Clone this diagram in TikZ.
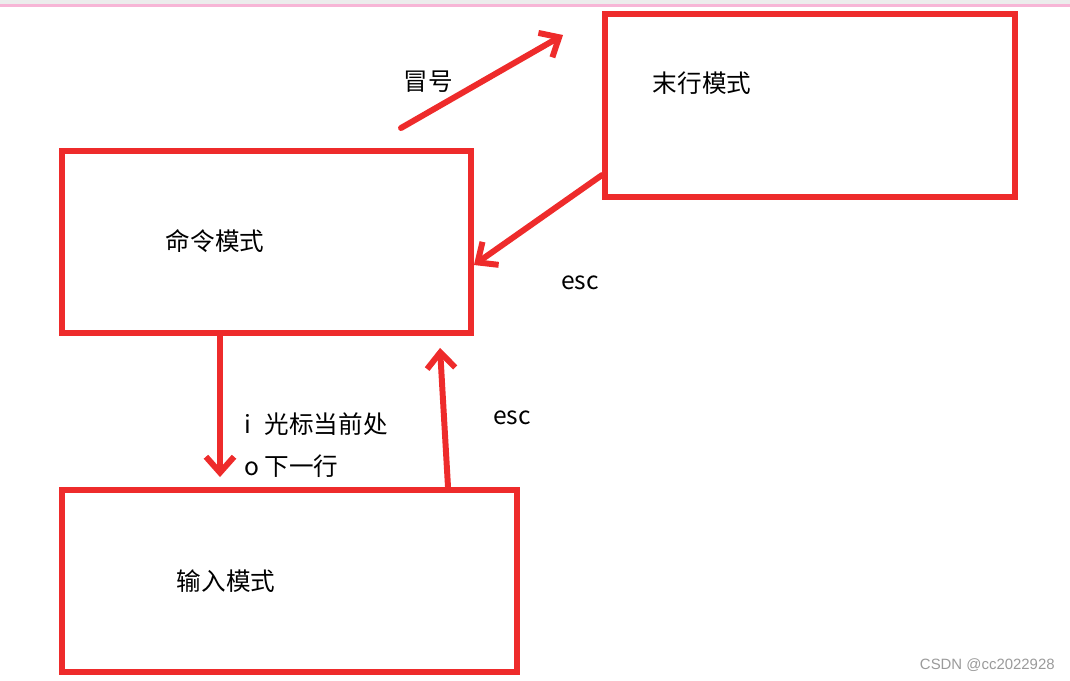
\documentclass[tikz,border=0pt]{standalone}
\usepackage{fontspec}
\usepackage{tikz}
\setmainfont{Noto Sans CJK SC}
\newfontfamily\marksans{Liberation Sans}
\definecolor{red500}{HTML}{EE2B2B}
\definecolor{pink200}{HTML}{F7B5D6}
\definecolor{gray400}{HTML}{9A9A9A}
\usetikzlibrary{arrows.meta}
\tikzstyle{modebox}=[rectangle, draw=red500, line width=3.4pt, inner sep=0pt]
\tikzstyle{txt}=[inner sep=0pt, font=\fontsize{14}{17}\selectfont]
\tikzstyle{flow}=[draw=red500, line width=3.4pt, line cap=round, -{Straight Barb[length=9pt,width=16pt,line width=3.4pt]}]

\begin{document}
\begin{tikzpicture}[x=0.02cm, y=-0.02cm]
	\useasboundingbox (0,0) rectangle (1070,680);
	\fill[gray!15] (0,0) rectangle (1070,4);
	\fill[pink200] (0,4) rectangle (1070,7);
	\node[modebox, minimum width=8.18cm, minimum height=3.64cm] (cmd) at (266.5,242){};
	\node[modebox, minimum width=8.2cm, minimum height=3.66cm] (lastline) at (810,105.5){};
	\node[modebox, minimum width=9.1cm, minimum height=3.64cm] (input) at (289.5,581){};
	\node[txt] (cmdtext) at (215,241){命令模式};
	\node[txt] (lasttext) at (702,83){末行模式};
	\node[txt] (inputtext) at (226,581){输入模式};
	\coordinate (colonstart) at (401,128);
	\coordinate (colonend) at (563,35);
	\path[flow] (colonstart) -- (colonend);
	\path[flow] (lastline.west |- 0,175) -- (cmd.east |- 0,265);
	\path[flow] (cmd.south -| 220,0) -- ([yshift=0.2cm]input.north -| 220,0);
	\path[flow] (input.north -| 448,0) -- ([yshift=-0.24cm]cmd.south -| 440,0);
	\node[txt] (colon) at (428,82){冒号};
	\node[txt] (esctop) at (580,283){esc};
	\node[txt] (escbottom) at (512,418){esc};
	\node[txt, anchor=west] (ikey) at (244,424){i\hspace{0.55em}光标当前处};
	\node[txt, anchor=west] (okey) at (244,466){o 下一行};
	\node[inner sep=0pt, anchor=east, text=gray400, font=\marksans\fontsize{8.5}{10}\selectfont] (mark) at (1055,665){CSDN @cc2022928};
\end{tikzpicture}
\end{document}
